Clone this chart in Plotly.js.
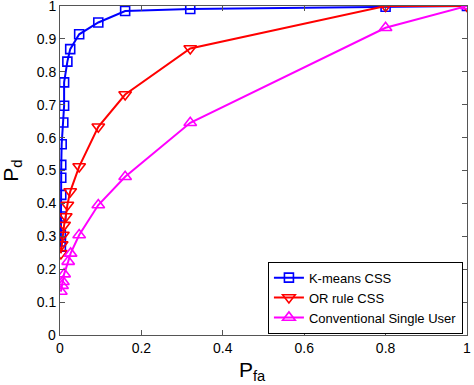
<!DOCTYPE html>
<html>
<head>
<meta charset="utf-8">
<script src="https://cdn.plot.ly/plotly-3.0.1.min.js"></script>
<style>html,body{margin:0;padding:0;background:#fff;}#chart{width:474px;height:385px;}</style>
</head>
<body>
<div id="chart"></div>
<script>
const seriesNames = ["K-means CSS", "OR rule CSS", "Conventional Single User"];
const xTitle = "P<sub>fa</sub>";
const yTitle = "P<sub>d</sub>";

const kmeansPfa = [0.002, 0.002, 0.002, 0.003, 0.003, 0.003, 0.003, 0.004, 0.008, 0.01, 0.01, 0.018, 0.025, 0.047, 0.094, 0.16, 0.32, 0.8, 1];
const kmeansPd  = [0.268, 0.284, 0.304, 0.36, 0.426, 0.478, 0.517, 0.58, 0.646, 0.697, 0.768, 0.831, 0.869, 0.914, 0.95, 0.985, 0.991, 0.998, 1];

const orPfa = [0.002, 0.004, 0.007, 0.01, 0.014, 0.018, 0.025, 0.047, 0.094, 0.16, 0.32, 0.8, 1];
const orPd  = [0.248, 0.275, 0.304, 0.334, 0.36, 0.395, 0.436, 0.512, 0.633, 0.731, 0.871, 1, 1];

const singlePfa = [0.002, 0.005, 0.007, 0.01, 0.02, 0.026, 0.047, 0.094, 0.16, 0.32, 0.8, 1];
const singlePd  = [0.132, 0.15, 0.162, 0.185, 0.223, 0.248, 0.304, 0.395, 0.481, 0.645, 0.934, 1];

const xTickVals = [0, 0.2, 0.4, 0.6, 0.8, 1];
const xTickText = ["", "0.2", "0.4", "0.6", "0.8", "1"];
const yTickVals = [0, 0.1, 0.2, 0.3, 0.4, 0.5, 0.6, 0.7, 0.8, 0.9, 1];
const yTickText = ["", "0.1", "0.2", "0.3", "0.4", "0.5", "0.6", "0.7", "0.8", "0.9", "1"];
const originLabel = "0";

const FONT = "Liberation Sans, Arial, sans-serif";

const traces = [
  {x: kmeansPfa, y: kmeansPd, name: seriesNames[0], mode: "lines+markers",
   line: {color: "#0000ff", width: 2},
   marker: {symbol: "square-open", size: 9, color: "#0000ff", line: {width: 1.6, color: "#0000ff"}}},
  {x: orPfa, y: orPd, name: seriesNames[1], mode: "lines+markers",
   line: {color: "#ff0000", width: 2},
   marker: {symbol: "triangle-down-open", size: 11, color: "#ff0000", line: {width: 1.6, color: "#ff0000"}}},
  {x: singlePfa, y: singlePd, name: seriesNames[2], mode: "lines+markers",
   line: {color: "#ff00ff", width: 2},
   marker: {symbol: "triangle-up-open", size: 11, color: "#ff00ff", line: {width: 1.6, color: "#ff00ff"}}}
];

const axisCommon = {
  showgrid: false, zeroline: false, showline: true, mirror: "ticks",
  linecolor: "#555", linewidth: 1, ticks: "inside", ticklen: 5, tickcolor: "#555",
  tickfont: {family: FONT, size: 14, color: "#000"},
  tickmode: "array", ticklabeloverflow: "allow"
};

const layout = {
  width: 474, height: 385,
  margin: {l: 60, r: 7, t: 6, b: 50},
  paper_bgcolor: "rgba(0,0,0,0)", plot_bgcolor: "rgba(0,0,0,0)",
  showlegend: true,
  xaxis: Object.assign({}, axisCommon, {range: [-0.0001, 1.0001], tickvals: xTickVals, ticktext: xTickText}),
  yaxis: Object.assign({}, axisCommon, {range: [-0.0001, 1.0001], tickvals: yTickVals, ticktext: yTickText}),
  annotations: [
    {text: originLabel, xref: "paper", yref: "paper", x: 0, y: 0, xanchor: "center", yanchor: "top",
     yshift: -3, showarrow: false, font: {family: FONT, size: 14, color: "#000"}},
    {text: originLabel, xref: "paper", yref: "paper", x: 0, y: 0, xanchor: "right", yanchor: "middle",
     xshift: -2.5, showarrow: false, font: {family: FONT, size: 14, color: "#000"}},
    {text: xTitle, xref: "paper", yref: "paper", x: 0.474, y: -0.065, xanchor: "center", yanchor: "top",
     showarrow: false, font: {family: FONT, size: 21, color: "#000"}},
    {text: yTitle, xref: "paper", yref: "paper", x: -0.12, y: 0.5, xanchor: "center", yanchor: "middle",
     textangle: -90, showarrow: false, font: {family: FONT, size: 21, color: "#000"}}
  ],
  legend: {
    x: 0.99, y: 0.004, xanchor: "right", yanchor: "bottom",
    bgcolor: "#fff", bordercolor: "#000", borderwidth: 1,
    font: {family: FONT, size: 13, color: "#000"}
  }
};

Plotly.newPlot("chart", traces, layout, {staticPlot: true, displayModeBar: false});
</script>
</body>
</html>
